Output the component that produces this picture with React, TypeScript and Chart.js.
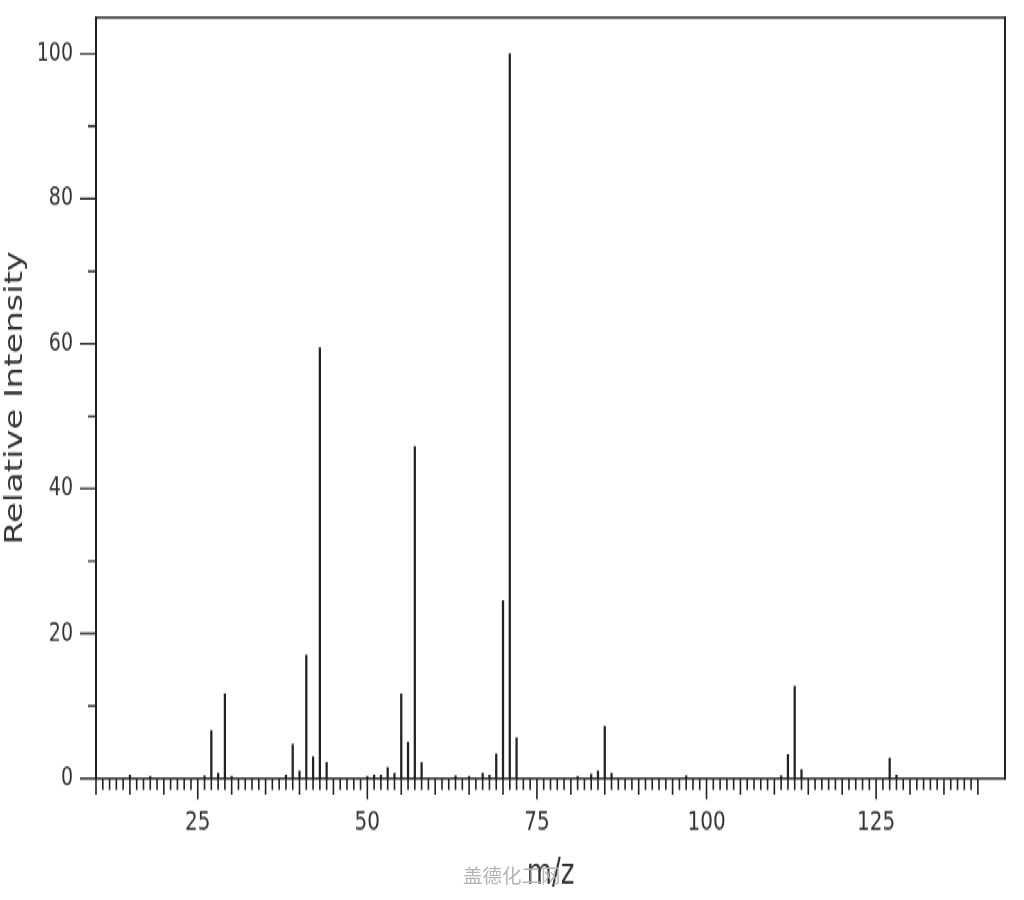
import { useEffect, useRef } from 'react';
import { Chart, registerables } from 'chart.js';

Chart.register(...registerables);

// m/z positions and their relative intensities
const mzValues = [15, 18, 26, 27, 28, 29, 30, 38, 39, 40, 41, 42, 43, 44, 50, 51, 52, 53, 54, 55, 56, 57, 58, 63, 65, 67, 68, 69, 70, 71, 72, 81, 83, 84, 85, 86, 97, 111, 112, 113, 114, 127, 128];
const intensities = [0.5, 0.3, 0.4, 6.6, 0.7, 11.7, 0.3, 0.5, 4.7, 1.0, 17.0, 3.0, 59.4, 2.2, 0.3, 0.5, 0.5, 1.5, 0.7, 11.7, 5.0, 45.8, 2.2, 0.4, 0.3, 0.7, 0.5, 3.4, 24.5, 100, 5.6, 0.3, 0.6, 1.0, 7.2, 0.7, 0.4, 0.4, 3.3, 12.7, 1.2, 2.8, 0.5];

const xTickLabels = [25, 50, 75, 100, 125];
const yTickLabels = [0, 20, 40, 60, 80, 100];
const yMinorTicks = [10, 30, 50, 70, 90];

const X_MIN = 10;
const X_MAX = 144;
const X_AXIS_END = 140;
const Y_MIN = 0;
const Y_MAX = 105;

const CANVAS_W = 1024;
const CANVAS_H = 667;
const STRETCH_Y = 900 / CANVAS_H;

const INK = '#222222';
const TEXT = '#333333';

const framePlugin = {
  id: 'specFrame',
  afterDatasetsDraw(chart: any) {
    const { ctx, chartArea: a, scales } = chart;
    const xs = scales.x;
    const ys = scales.y;
    ctx.save();
    ctx.strokeStyle = INK;
    // vertical frame sides
    ctx.lineWidth = 2;
    ctx.beginPath();
    ctx.moveTo(a.left, a.top - 0.75);
    ctx.lineTo(a.left, a.bottom + 0.75);
    ctx.moveTo(a.right, a.top - 0.75);
    ctx.lineTo(a.right, a.bottom + 0.75);
    ctx.stroke();
    // horizontal frame sides
    ctx.lineWidth = 1.5;
    ctx.beginPath();
    ctx.moveTo(a.left - 1, a.top);
    ctx.lineTo(a.right + 1, a.top);
    ctx.moveTo(a.left - 1, a.bottom);
    ctx.lineTo(a.right + 1, a.bottom);
    ctx.stroke();
    // x ticks every unit
    ctx.lineWidth = 1.6;
    ctx.beginPath();
    for (let v = X_MIN; v <= X_AXIS_END; v++) {
      const px = xs.getPixelForValue(v);
      const len = v % 25 === 0 ? 15.5 : v % 5 === 0 ? 12 : 8.5;
      ctx.moveTo(px, a.bottom);
      ctx.lineTo(px, a.bottom + len);
    }
    ctx.stroke();
    // y ticks
    ctx.lineWidth = 1.4;
    ctx.beginPath();
    for (const v of yTickLabels) {
      const py = ys.getPixelForValue(v);
      ctx.moveTo(a.left - 16, py);
      ctx.lineTo(a.left, py);
    }
    for (const v of yMinorTicks) {
      const py = ys.getPixelForValue(v);
      ctx.moveTo(a.left - 8, py);
      ctx.lineTo(a.left, py);
    }
    ctx.stroke();
    ctx.restore();
  },
};

function SpectrumChart() {
  const canvasRef = useRef<HTMLCanvasElement | null>(null);

  useEffect(() => {
    if (!canvasRef.current) return;
    const chart = new Chart(canvasRef.current, {
      type: 'bar',
      data: {
        datasets: [
          {
            data: mzValues.map((m, i) => ({ x: m, y: intensities[i] })),
            backgroundColor: INK,
            borderWidth: 0,
            barThickness: 1.6,
            grouped: false,
          } as any,
        ],
      },
      options: {
        responsive: false,
        animation: false,
        devicePixelRatio: 1,
        layout: { padding: { top: 13, right: 19, left: 0, bottom: 0 } },
        plugins: {
          legend: { display: false },
          tooltip: { enabled: false },
        },
        scales: {
          x: {
            type: 'linear',
            min: X_MIN,
            max: X_MAX,
            offset: false,
            grid: { display: false, drawTicks: false },
            border: { display: false },
            afterBuildTicks: (s: any) => {
              s.ticks = xTickLabels.map((v) => ({ value: v }));
            },
            afterFit: (s: any) => {
              s.height = 90;
              s.paddingLeft = 0;
              s.paddingRight = 0;
            },
            ticks: {
              padding: 21,
              maxRotation: 0,
              autoSkip: false,
              color: TEXT,
              font: { family: 'DejaVu Sans', size: 20 },
              callback: (v: any) => String(v),
            },
            title: {
              display: true,
              text: 'm/z',
              color: TEXT,
              font: { family: 'DejaVu Sans', size: 26 },
              padding: { top: 0, bottom: 3 },
            },
          },
          y: {
            type: 'linear',
            min: Y_MIN,
            max: Y_MAX,
            grid: { display: false, drawTicks: false },
            border: { display: false },
            afterBuildTicks: (s: any) => {
              s.ticks = yTickLabels.map((v) => ({ value: v }));
            },
            afterFit: (s: any) => {
              s.width = 96;
              s.paddingTop = 0;
              s.paddingBottom = 0;
            },
            ticks: {
              padding: 23,
              autoSkip: false,
              color: TEXT,
              font: { family: 'DejaVu Sans', size: 19 },
              callback: (v: any) => String(v),
            },
            title: {
              display: true,
              text: 'Relative Intensity',
              color: TEXT,
              font: { family: 'DejaVu Sans', size: 25 },
              padding: { top: 0, bottom: 0 },
            },
          },
        },
      } as any,
      plugins: [framePlugin],
    });
    return () => chart.destroy();
  }, []);

  return (
    <div
      style={{
        position: 'absolute',
        left: 0,
        top: 0,
        width: CANVAS_W,
        height: CANVAS_H,
        transform: `scaleY(${STRETCH_Y})`,
        transformOrigin: 'top left',
        background: '#ffffff',
      }}
    >
      <canvas ref={canvasRef} width={CANVAS_W} height={CANVAS_H} style={{ display: 'block' }} />
    </div>
  );
}

export default function App() {
  return (
    <div style={{ position: 'absolute', left: 0, top: 0, width: 1024, height: 900, background: '#ffffff' }}>
      <SpectrumChart />
      <div
        style={{
          position: 'absolute',
          left: 463,
          top: 865,
          fontFamily: '"Noto Sans CJK SC", sans-serif',
          fontSize: 19.5,
          lineHeight: '20px',
          color: '#b4b4b4',
          whiteSpace: 'nowrap',
        }}
      >
        盖德化工网
      </div>
    </div>
  );
}
